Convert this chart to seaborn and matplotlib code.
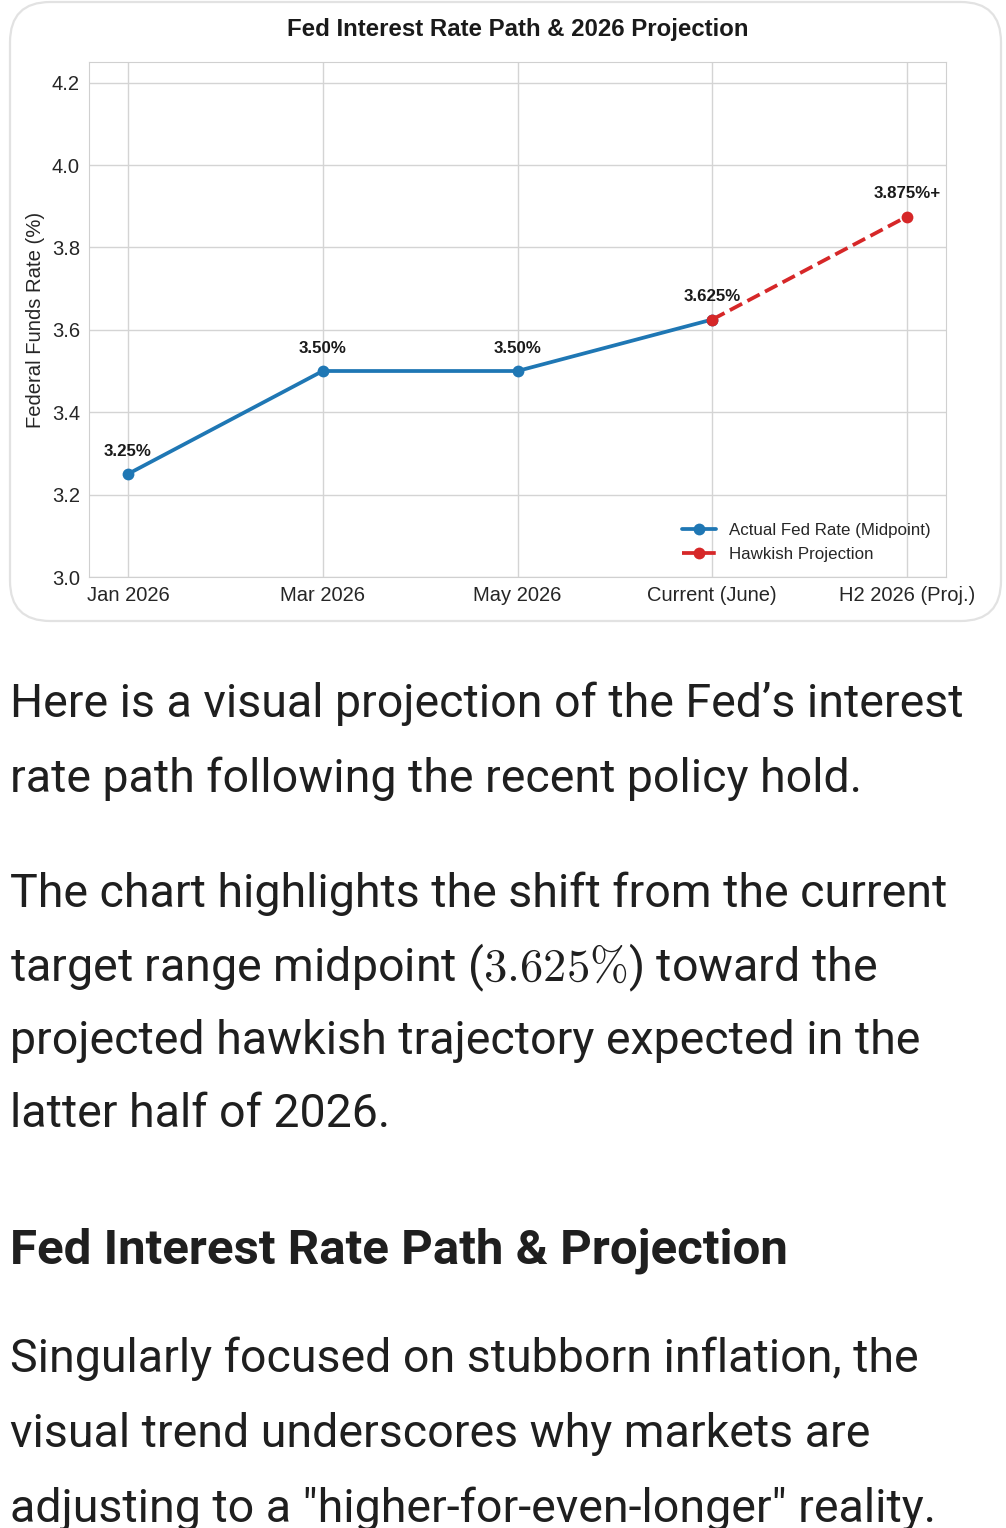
import matplotlib
matplotlib.use("Agg")
import matplotlib.pyplot as plt
import seaborn as sns
import pandas as pd
from matplotlib.patches import FancyBboxPatch

# --- Data ---
periods = ["Jan 2026", "Mar 2026", "May 2026", "Current (June)", "H2 2026 (Proj.)"]
actual_periods = ["Jan 2026", "Mar 2026", "May 2026", "Current (June)"]
actual_rate = [3.25, 3.50, 3.50, 3.625]
proj_periods = ["Current (June)", "H2 2026 (Proj.)"]
proj_rate = [3.625, 3.875]
point_labels = ["3.25%", "3.50%", "3.50%", "3.625%", "3.875%+"]
y_ticks = [3.0, 3.2, 3.4, 3.6, 3.8, 4.0, 4.2]

actual_df = pd.DataFrame({"period": actual_periods, "rate": actual_rate})
proj_df = pd.DataFrame({"period": proj_periods, "rate": proj_rate})

# --- Style ---
sns.set_style("whitegrid")
plt.rcParams["font.family"] = ["Liberation Sans", "DejaVu Sans"]
plt.rcParams["mathtext.fontset"] = "cm"

W, H = 1006, 1528
fig = plt.figure(figsize=(W / 100, H / 100), dpi=100)

# rounded card behind the chart
card = FancyBboxPatch((10 / W, 1 - 621 / H), 991 / W, 619 / H,
                      boxstyle="round,pad=0,rounding_size=0.04",
                      transform=fig.transFigure, facecolor="white",
                      edgecolor="#e2e2e2", linewidth=1.6, zorder=-5,
                      mutation_aspect=W / H)
fig.patches.append(card)

ax = fig.add_axes([89 / W, 1 - 577 / H, 857 / W, 515 / H])
ax.set_zorder(2)

sns.lineplot(data=actual_df, x="period", y="rate", ax=ax, sort=False,
             color="#1f77b4", linewidth=2.7, marker="o", markersize=8.5,
             markeredgewidth=0, label="Actual Fed Rate (Midpoint)")
sns.lineplot(data=proj_df, x="period", y="rate", ax=ax, sort=False,
             color="#d62728", linewidth=2.7, linestyle="--", marker="o",
             markersize=8.5, markeredgewidth=0, label="Hawkish Projection")

all_rates = actual_rate + proj_rate[1:]
for i, (r, lab) in enumerate(zip(all_rates, point_labels)):
    ax.annotate(lab, (i, r), xytext=(0, 11), textcoords="offset points",
                ha="center", va="bottom", fontsize=12.2, fontweight="bold",
                color="#1a1a1a")

ax.set_xlim(-0.2, 4.2)
ax.set_ylim(3.0, 4.25)
ax.set_yticks(y_ticks)
ax.set_xticks(range(len(periods)))
ax.set_xticklabels(periods)
ax.tick_params(axis="both", labelsize=14.5, colors="#262626", pad=3)
ax.set_xlabel("")
ax.set_ylabel("Federal Funds Rate (%)", fontsize=14.6, color="#262626", labelpad=5)
ax.set_title("Fed Interest Rate Path & 2026 Projection", fontsize=17.3,
             fontweight="bold", color="#1a1a1a", pad=19)
for s in ax.spines.values():
    s.set_color("#d0d0d0")
ax.grid(color="#d4d4d4", linewidth=1)
ax.legend(loc="lower right", frameon=False, fontsize=12.2, borderaxespad=0.5)

# --- Text below the chart ---
body = dict(family=["Roboto", "DejaVu Sans"], color="#1f1f1f", fontsize=33.5,
            va="baseline", ha="left")
lines = [
    (717, "Here is a visual projection of the Fed\u2019s interest"),
    (792, "rate path following the recent policy hold."),
    (907, "The chart highlights the shift from the current"),
    (981, r"target range midpoint ($3.625\%$) toward the"),
    (1054, "projected hawkish trajectory expected in the"),
    (1127, "latter half of 2026."),
    (1372, "Singularly focused on stubborn inflation, the"),
    (1447, "visual trend underscores why markets are"),
    (1522, "adjusting to a \"higher-for-even-longer\" reality."),
]
for yb, t in lines:
    fig.text(10 / W, 1 - yb / H, t, **body)

fig.text(10 / W, 1 - 1263 / H, "Fed Interest Rate Path & Projection",
         family=["Roboto", "DejaVu Sans"], fontweight="bold", color="#1f1f1f",
         fontsize=35.5, va="baseline", ha="left")

plt.savefig("out.png", dpi=100)
